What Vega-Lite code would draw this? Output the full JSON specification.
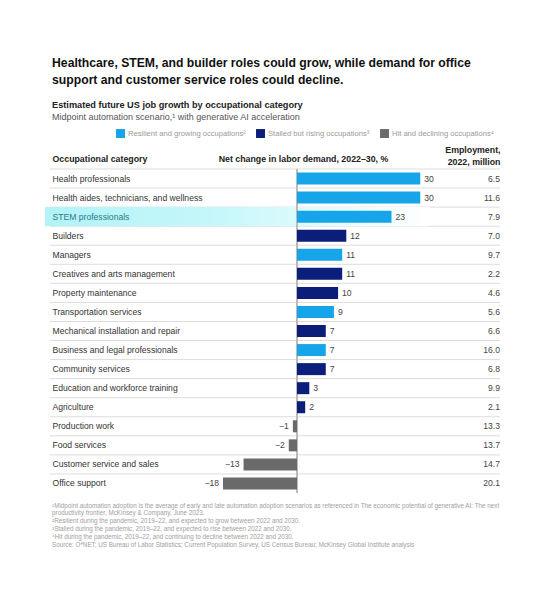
{
  "$schema": "https://vega.github.io/schema/vega-lite/v6.json",
  "padding": {"left": 45, "top": 56, "right": 10, "bottom": 5},
  "background": "white",
  "config": {
    "font": "Liberation Sans",
    "view": {"stroke": null},
    "title": {"font": "Liberation Sans", "subtitleFont": "Liberation Sans"}
  },
  "title": {
    "text": ["Healthcare, STEM, and builder roles could grow, while demand for office", "support and customer service roles could decline."],
    "anchor": "start",
    "dx": 7,
    "fontSize": 12.2,
    "fontWeight": "bold",
    "color": "#111111",
    "lineHeight": 17,
    "offset": 15
  },
  "vconcat": [
    {
      "title": {
        "text": [
          "¹Midpoint automation adoption is the average of early and late automation adoption scenarios as referenced in The economic potential of generative AI: The next",
          " productivity frontier, McKinsey & Company, June 2023.",
          "²Resilient during the pandemic, 2019–22, and expected to grow between 2022 and 2030.",
          "³Stalled during the pandemic, 2019–22, and expected to rise between 2022 and 2030.",
          "⁴Hit during the pandemic, 2019–22, and continuing to decline between 2022 and 2030.",
          " Source: O*NET; US Bureau of Labor Statistics; Current Population Survey, US Census Bureau; McKinsey Global Institute analysis"
        ],
        "orient": "bottom",
        "anchor": "start",
        "dx": 7,
        "fontSize": 6.3,
        "fontWeight": "normal",
        "color": "#a0a0a0",
        "lineHeight": 7.8,
        "offset": 9
      },
      "vconcat": [
        {
          "title": {
            "text": "Estimated future US job growth by occupational category",
            "subtitle": "Midpoint automation scenario,¹ with generative AI acceleration",
            "anchor": "start",
            "dx": 7,
            "fontSize": 9.2,
            "fontWeight": "bold",
            "color": "#222222",
            "subtitleFontSize": 9,
            "subtitleColor": "#555555",
            "subtitlePadding": 3,
            "offset": 23
          },
          "width": 450,
          "height": 324,
          "data": {
            "values": [
              {"category": "Health professionals", "change": 30, "group": "Resilient and growing occupations²", "employment": 6.5},
              {"category": "Health aides, technicians, and wellness", "change": 30, "group": "Resilient and growing occupations²", "employment": 11.6},
              {"category": "STEM professionals", "change": 23, "group": "Resilient and growing occupations²", "employment": 7.9},
              {"category": "Builders", "change": 12, "group": "Stalled but rising occupations³", "employment": 7.0},
              {"category": "Managers", "change": 11, "group": "Resilient and growing occupations²", "employment": 9.7},
              {"category": "Creatives and arts management", "change": 11, "group": "Stalled but rising occupations³", "employment": 2.2},
              {"category": "Property maintenance", "change": 10, "group": "Stalled but rising occupations³", "employment": 4.6},
              {"category": "Transportation services", "change": 9, "group": "Resilient and growing occupations²", "employment": 5.6},
              {"category": "Mechanical installation and repair", "change": 7, "group": "Stalled but rising occupations³", "employment": 6.6},
              {"category": "Business and legal professionals", "change": 7, "group": "Resilient and growing occupations²", "employment": 16.0},
              {"category": "Community services", "change": 7, "group": "Stalled but rising occupations³", "employment": 6.8},
              {"category": "Education and workforce training", "change": 3, "group": "Stalled but rising occupations³", "employment": 9.9},
              {"category": "Agriculture", "change": 2, "group": "Stalled but rising occupations³", "employment": 2.1},
              {"category": "Production work", "change": -1, "group": "Hit and declining occupations⁴", "employment": 13.3},
              {"category": "Food services", "change": -2, "group": "Hit and declining occupations⁴", "employment": 13.7},
              {"category": "Customer service and sales", "change": -13, "group": "Hit and declining occupations⁴", "employment": 14.7},
              {"category": "Office support", "change": -18, "group": "Hit and declining occupations⁴", "employment": 20.1}
            ]
          },
          "resolve": {"axis": {"y": "independent"}},
          "layer": [
            {
              "mark": {"type": "rule", "color": "#dddddd", "strokeWidth": 1},
              "encoding": {
                "y": {"field": "category", "type": "nominal", "sort": null, "bandPosition": 0, "axis": null,
                      "scale": {"paddingInner": 0, "paddingOuter": 0}}
              }
            },
            {
              "transform": [{"filter": "datum.category === 'STEM professionals'"}],
              "mark": {
                "type": "rect",
                "color": {
                  "gradient": "linear", "x1": 0, "x2": 1, "y1": 0, "y2": 0,
                  "stops": [
                    {"offset": 0, "color": "#b2f3f8"},
                    {"offset": 0.45, "color": "#c6f7fa"},
                    {"offset": 1, "color": "#ffffff"}
                  ]
                }
              },
              "encoding": {
                "y": {"field": "category", "type": "nominal", "sort": null, "axis": null},
                "x": {"datum": -61.3, "type": "quantitative"},
                "x2": {"datum": 32}
              }
            },
            {
              "mark": {"type": "rule", "color": "#bbbbbb", "strokeWidth": 1},
              "encoding": {
                "x": {"datum": 0, "type": "quantitative"}
              }
            },
            {
              "mark": {"type": "bar", "size": 12},
              "encoding": {
                "y": {
                  "field": "category", "type": "nominal", "sort": null,
                  "axis": {
                    "orient": "left",
                    "zindex": 1,
                    "title": "Occupational category",
                    "titleAngle": 0,
                    "titleAlign": "left",
                    "titleBaseline": "bottom",
                    "titleX": 2,
                    "titleY": -6,
                    "titleFontSize": 8.8,
                    "titleFontWeight": "bold",
                    "titleColor": "#222222",
                    "labelAlign": "left",
                    "labelPadding": -2,
                    "labelFontSize": 8.6,
                    "labelColor": {"condition": {"test": "datum.value === 'STEM professionals'", "value": "#2c7a84"}, "value": "#333333"},
                    "labelLimit": 300,
                    "ticks": false,
                    "tickSize": 0,
                    "domain": false,
                    "grid": false
                  }
                },
                "x": {
                  "field": "change", "type": "quantitative",
                  "scale": {"domain": [-60.1, 49.4], "nice": false, "zero": false},
                  "axis": {
                    "orient": "top",
                    "title": "Net change in labor demand, 2022–30, %",
                    "titleFontSize": 8.8,
                    "titleFontWeight": "bold",
                    "titleColor": "#222222",
                    "titleX": 253,
                    "titleY": -6,
                    "titleBaseline": "bottom",
                    "labels": false,
                    "ticks": false,
                    "domain": false,
                    "grid": false
                  }
                },
                "color": {
                  "field": "group", "type": "nominal",
                  "scale": {
                    "domain": ["Resilient and growing occupations²", "Stalled but rising occupations³", "Hit and declining occupations⁴"],
                    "range": ["#17a5ea", "#0b1f7a", "#6a6a6a"]
                  },
                  "legend": {
                    "orient": "none",
                    "direction": "horizontal",
                    "legendX": 66,
                    "legendY": -40,
                    "title": null,
                    "symbolType": "square",
                    "symbolSize": 80,
                    "symbolStrokeWidth": 0,
                    "labelFontSize": 7.6,
                    "labelColor": "#9a9a9a",
                    "labelOffset": 3,
                    "columnPadding": 10
                  }
                }
              }
            },
            {
              "transform": [{"filter": "datum.change > 0"}],
              "mark": {"type": "text", "align": "left", "dx": 4, "fontSize": 8.6, "color": "#444444"},
              "encoding": {
                "y": {"field": "category", "type": "nominal", "sort": null, "axis": null},
                "x": {"field": "change", "type": "quantitative"},
                "text": {"field": "change", "type": "quantitative", "format": "d"}
              }
            },
            {
              "transform": [{"filter": "datum.change < 0"}],
              "mark": {"type": "text", "align": "right", "dx": -4, "fontSize": 8.6, "color": "#444444"},
              "encoding": {
                "y": {"field": "category", "type": "nominal", "sort": null, "axis": null},
                "x": {"field": "change", "type": "quantitative"},
                "text": {"field": "change", "type": "quantitative", "format": "d"}
              }
            },
            {
              "mark": {"type": "text", "align": "right", "fontSize": 8.6, "color": "#444444"},
              "encoding": {
                "y": {
                  "field": "category", "type": "nominal", "sort": null,
                  "axis": {
                    "orient": "right",
                    "title": ["Employment,", "2022, million"],
                    "titleAngle": 0,
                    "titleAlign": "right",
                    "titleBaseline": "bottom",
                    "titleX": 0,
                    "titleY": -15,
                    "titleFontSize": 8.8,
                    "titleFontWeight": "bold",
                    "titleColor": "#222222",
                    "titleLineHeight": 12,
                    "labels": false,
                    "ticks": false,
                    "domain": false,
                    "grid": false
                  }
                },
                "x": {"datum": 49.4, "type": "quantitative"},
                "text": {"field": "employment", "type": "quantitative", "format": ".1f"}
              }
            }
          ]
        }
      ]
    }
  ]
}
